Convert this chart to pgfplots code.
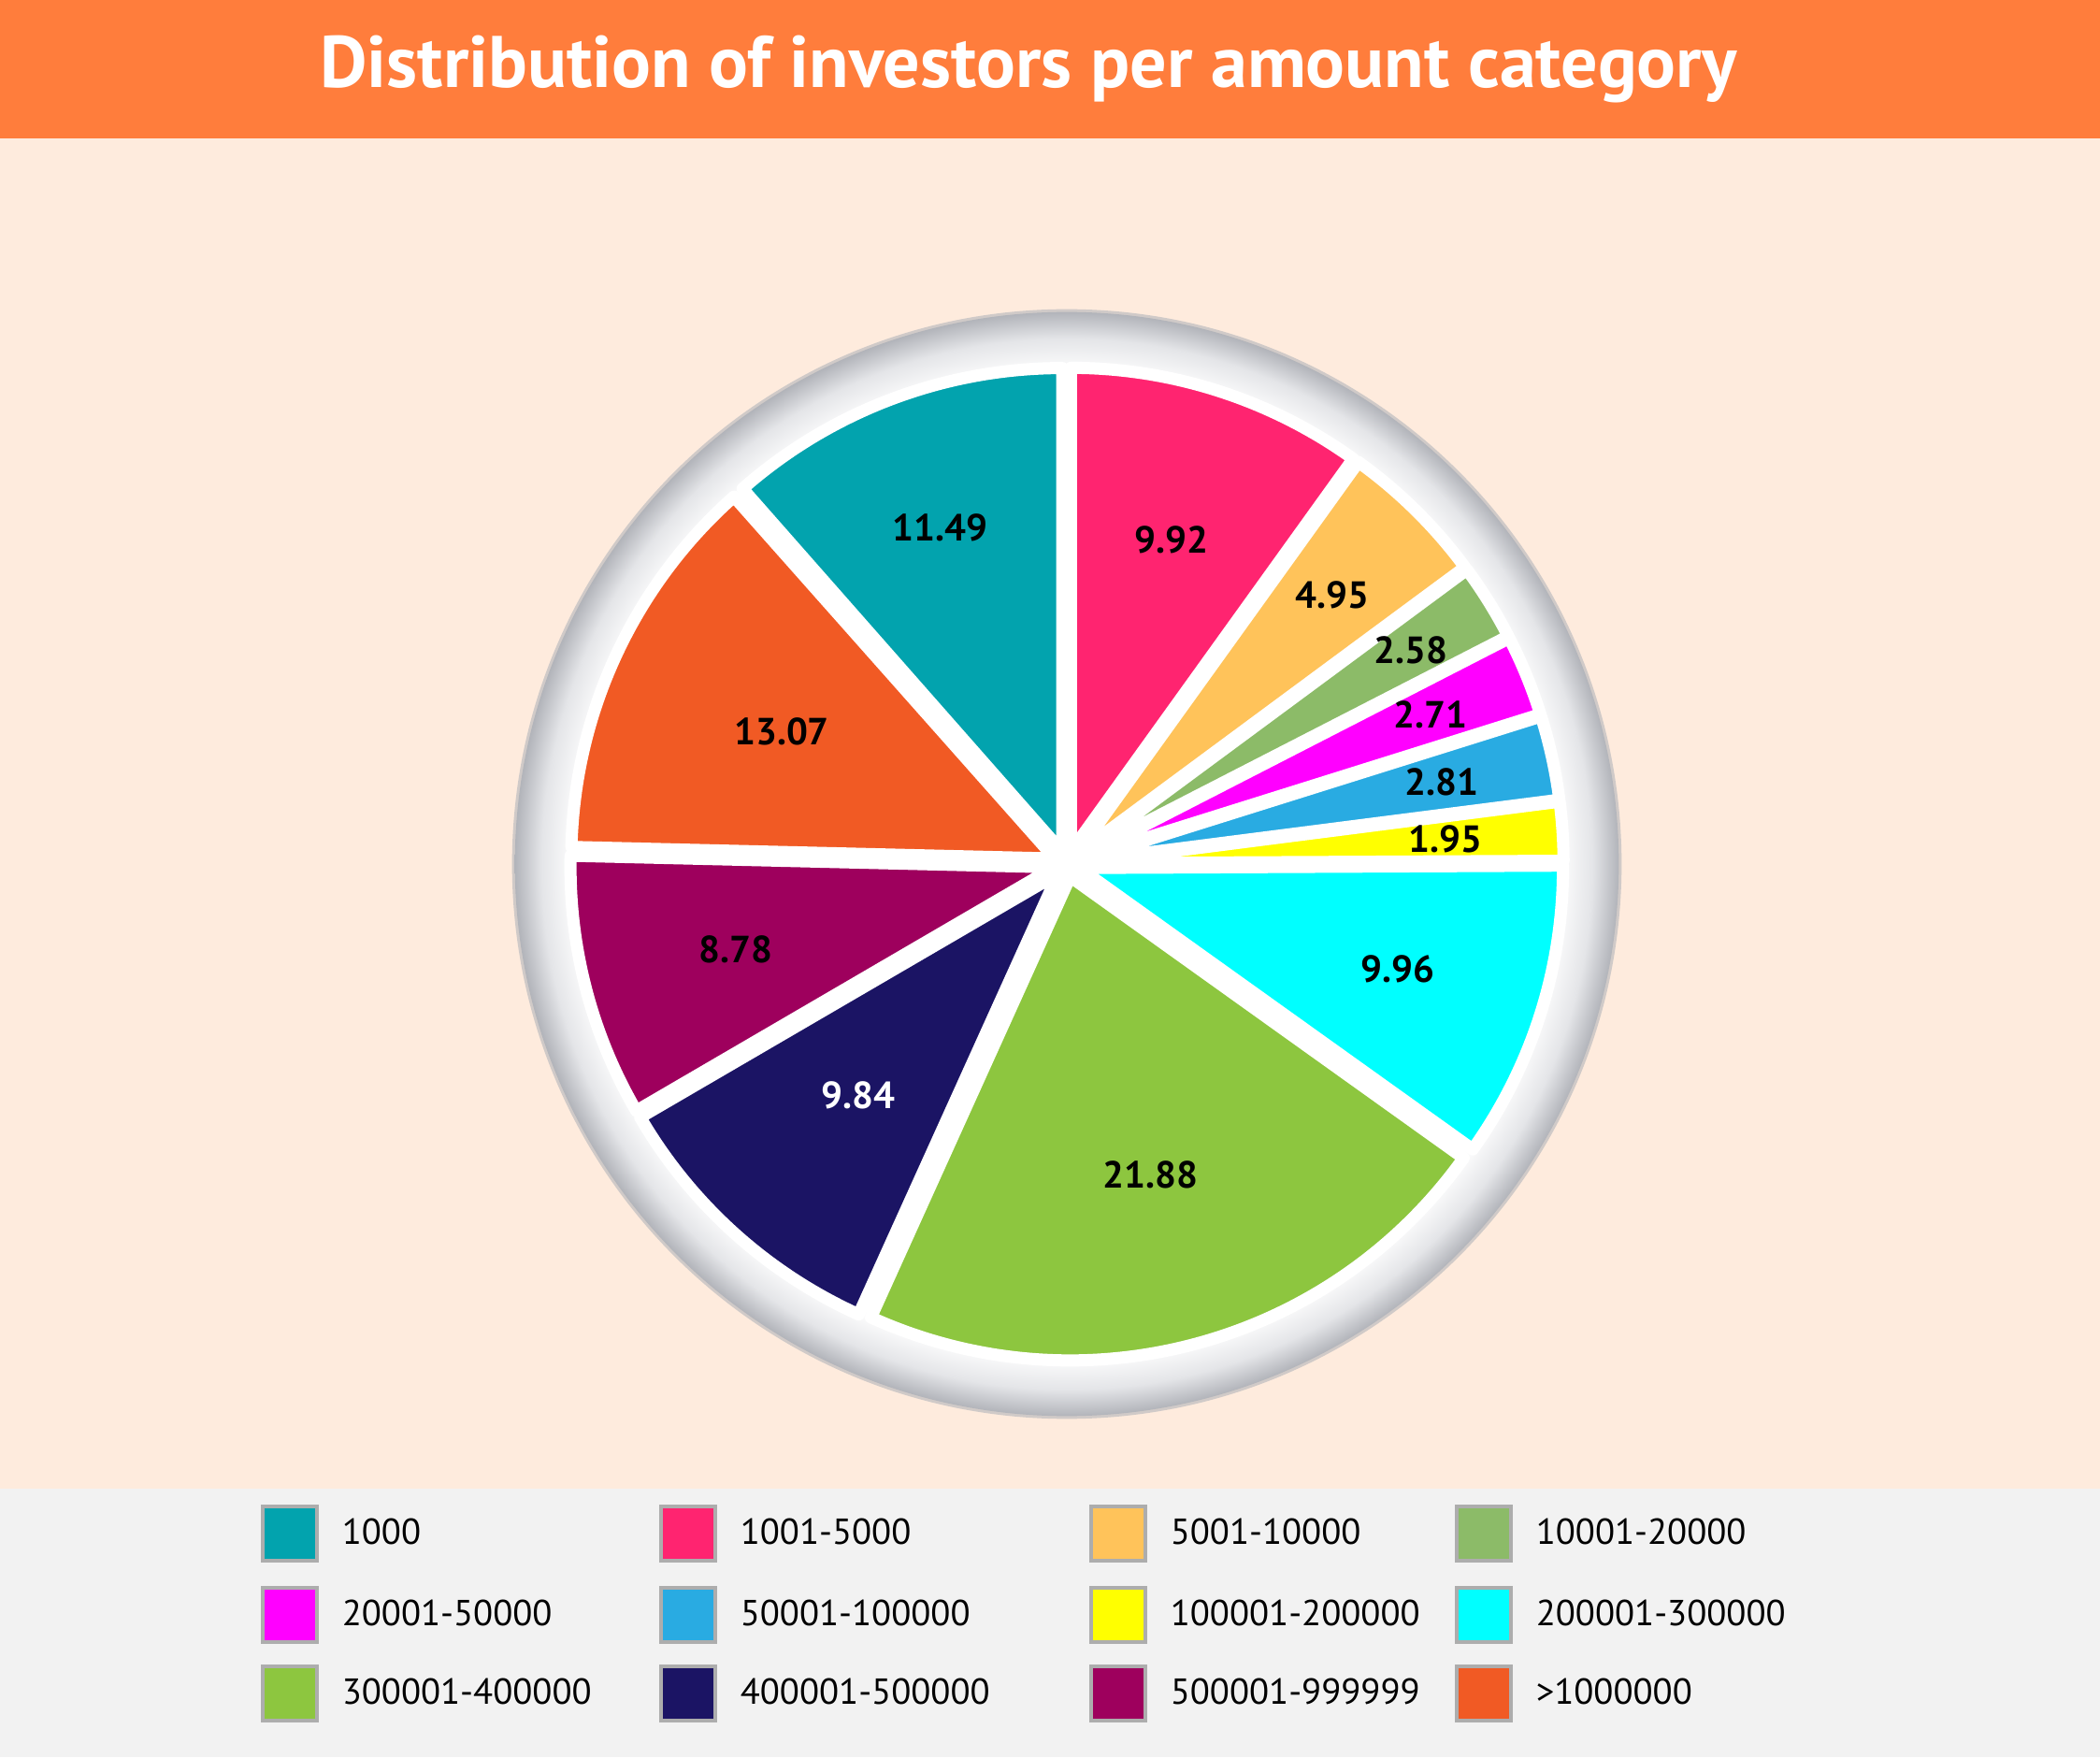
\documentclass[border=0pt]{standalone}
\usepackage{pgfplots}
\pgfplotsset{compat=1.18}
\usepackage{fontspec}
\setmainfont{PT Sans}
\definecolor{banner}{HTML}{FF7D3C}
\definecolor{beige}{HTML}{FEEBDD}
\definecolor{legbg}{HTML}{F2F2F2}
\definecolor{legborder}{HTML}{ADADAD}
\definecolor{ringmid}{HTML}{E4E5E8}
\definecolor{ringout}{HTML}{B2B4BA}
\definecolor{s1}{HTML}{02A3AE}
\definecolor{s2}{HTML}{FF2470}
\definecolor{s3}{HTML}{FFC35A}
\definecolor{s4}{HTML}{8CBB68}
\definecolor{s5}{HTML}{FF00FF}
\definecolor{s6}{HTML}{29ABE2}
\definecolor{s7}{HTML}{FFFF00}
\definecolor{s8}{HTML}{00FFFF}
\definecolor{s9}{HTML}{8DC63F}
\definecolor{s10}{HTML}{1B1464}
\definecolor{s11}{HTML}{9E005D}
\definecolor{s12}{HTML}{F15A24}
\pgfdeclareradialshading{ringshade}{\pgfpoint{0bp}{0bp}}{color(0bp)=(white); color(22.2bp)=(white); color(23.8bp)=(ringmid); color(25bp)=(ringout); color(50bp)=(ringout)}
% value / colour / label radius / label colour
\def\slicelist{11.49/s1/3.84cm/black, 9.92/s2/3.64cm/black, 4.95/s3/4.04cm/black, 2.58/s4/4.33cm/black, 2.71/s5/4.20cm/black, 2.81/s6/4.10cm/black, 1.95/s7/4.06cm/black, 9.96/s8/3.71cm/black, 21.88/s9/3.44cm/black, 9.84/s10/3.33cm/white, 8.78/s11/3.65cm/black, 13.07/s12/3.36cm/black}
\begin{document}
\begin{tikzpicture}
\begin{axis}[x=0.01cm,y=0.01cm,xmin=0,xmax=2246,ymin=0,ymax=1879,hide axis,scale only axis,clip=false]
\fill[beige] (axis cs:0,0) rectangle (axis cs:2246,1879);
\fill[banner] (axis cs:0,1731) rectangle (axis cs:2246,1879);
\fill[legbg] (axis cs:0,0) rectangle (axis cs:2246,287);
\node[white, font=\bfseries\fontsize{22.2}{26}\selectfont, anchor=base] at (axis cs:1100,1785) {Distribution of investors per amount category};
\fill[ringout!60!beige] (axis cs:1141,955) circle[radius=5.93cm];
\shade[shading=ringshade] (axis cs:1141,955) circle[radius=5.9cm];
\pgfplotsextra{%
  \xdef\astart{131.36}%
  \foreach \v/\c/\lr/\tc in \slicelist {%
    \pgfmathsetmacro\aend{\astart-3.6*\v}%
    \pgfmathsetmacro\amid{(\astart+\aend)/2}%
    \fill[\c, draw=white, line width=0.13cm, line join=round] ([shift={(\amid:0.14cm)}]axis cs:1141,955) -- ++(\astart:5.17cm) arc[start angle=\astart, end angle=\aend, radius=5.17cm] -- cycle;%
    \xdef\astart{\aend}%
  }%
  \xdef\astart{131.36}%
  \foreach \v/\c/\lr/\tc in \slicelist {%
    \pgfmathsetmacro\aend{\astart-3.6*\v}%
    \pgfmathsetmacro\amid{(\astart+\aend)/2}%
    \node[text=\tc, font=\bfseries\fontsize{11.5}{13}\selectfont] at ([shift={(\amid:\lr)}]axis cs:1141,955) {\v};%
    \xdef\astart{\aend}%
  }%
}
% legend
\pgfplotsextra{%
  \foreach \x/\y/\c/\t in {279/239/s1/1000, 705/239/s2/1001-5000, 1165/239/s3/5001-10000, 1556/239/s4/10001-20000,
                          279/152/s5/20001-50000, 705/152/s6/50001-100000, 1165/152/s7/100001-200000, 1556/152/s8/200001-300000,
                          279/68/s9/300001-400000, 705/68/s10/400001-500000, 1165/68/s11/500001-999999, 1556/68/s12/{>1000000}} {%
    \fill[\c, draw=legborder, line width=0.04cm] ([shift={(0.02cm,-0.29cm)}]axis cs:\x,\y) rectangle ([shift={(0.60cm,0.29cm)}]axis cs:\x,\y);%
    \node[anchor=base west, inner sep=0pt, font=\fontsize{11}{13}\selectfont] at ([shift={(0.86cm,-0.11cm)}]axis cs:\x,\y) {\t};%
  }%
}
\end{axis}
\end{tikzpicture}
\end{document}
